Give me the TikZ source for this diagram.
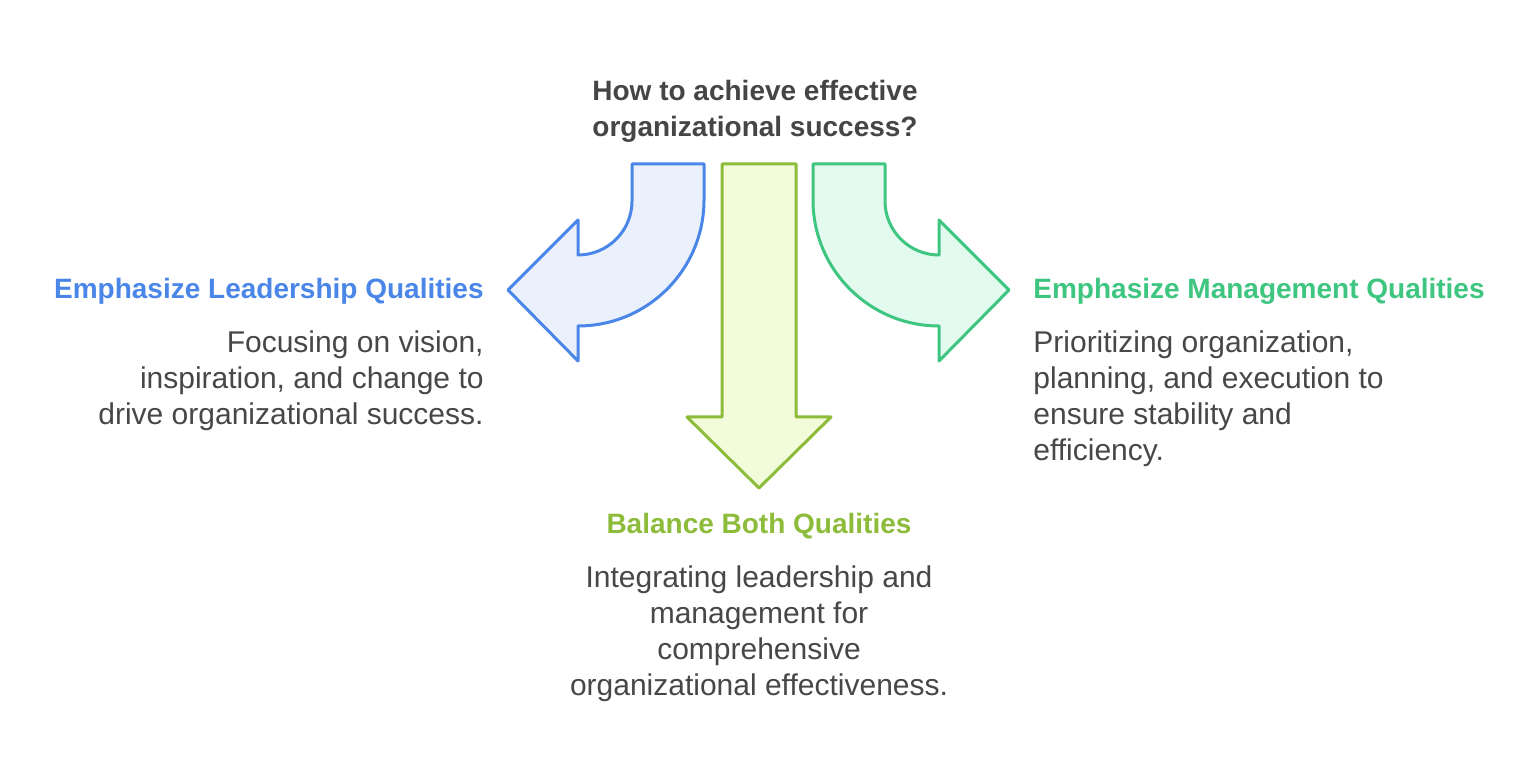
\documentclass[tikz,border=0pt]{standalone}
\usepackage{fontspec}
\setmainfont{Liberation Sans}
\definecolor{leadblue}{HTML}{4A86E8}
\definecolor{leadfill}{HTML}{EAF1FD}
\definecolor{mgmtgreen}{HTML}{3EC580}
\definecolor{mgmtfill}{HTML}{E2FBEE}
\definecolor{balgreen}{HTML}{8DBB3A}
\definecolor{balfill}{HTML}{F2FCDB}
\definecolor{titlegray}{HTML}{454545}
\definecolor{bodygray}{HTML}{474747}
\begin{document}
\begin{tikzpicture}[x=0.5pt,y=0.5pt,
  head/.style={font=\fontsize{14}{18}\selectfont\bfseries, inner sep=0pt},
  body/.style={font=\fontsize{15}{18}\selectfont, text=bodygray, inner sep=0pt},
  pil/.style={line width=1.5pt, line join=round}]
  \useasboundingbox (0,0) rectangle (1536,-779); %ramme
  \draw[pil,draw=leadblue,fill=leadfill] (704,-164) -- (704,-200) arc[start angle=0,end angle=-90,radius=126] -- (578,-361) -- (508,-290) -- (578,-220) -- (578,-255) arc[start angle=-90,end angle=0,radius=54] -- (632,-164) -- cycle; %left arrow
  \draw[pil,draw=mgmtgreen,fill=mgmtfill] (813,-164) -- (813,-200) arc[start angle=180,end angle=270,radius=126] -- (939,-361) -- (1009,-290) -- (939,-220) -- (939,-255) arc[start angle=270,end angle=180,radius=54] -- (885,-164) -- cycle; %right arrow
  \draw[pil,draw=balgreen,fill=balfill] (722,-164) -- (722,-417) -- (687,-417) -- (759,-488) -- (831,-417) -- (796,-417) -- (796,-164) -- cycle; %down arrow
  \node[head,text=titlegray,align=center,anchor=base] (question) at (755,-137) {How to achieve effective\\organizational success?}; %title
  \node[head,text=leadblue,anchor=base east] (leadhead) at (484,-299) {Emphasize Leadership Qualities};
  \node[body,align=right,anchor=base east] (leadtext) at (484,-425) {Focusing on vision,\\inspiration, and change to\\drive organizational success.};
  \node[head,text=mgmtgreen,anchor=base west] (mgmthead) at (1033,-299) {Emphasize Management Qualities};
  \node[body,align=left,anchor=base west] (mgmttext) at (1033,-461) {Prioritizing organization,\\planning, and execution to\\ensure stability and\\efficiency.};
  \node[head,text=balgreen,anchor=base] (balhead) at (759,-534) {Balance Both Qualities};
  \node[body,align=center,anchor=base] (baltext) at (759,-696) {Integrating leadership and\\management for\\comprehensive\\organizational effectiveness.};
\end{tikzpicture}
\end{document}
